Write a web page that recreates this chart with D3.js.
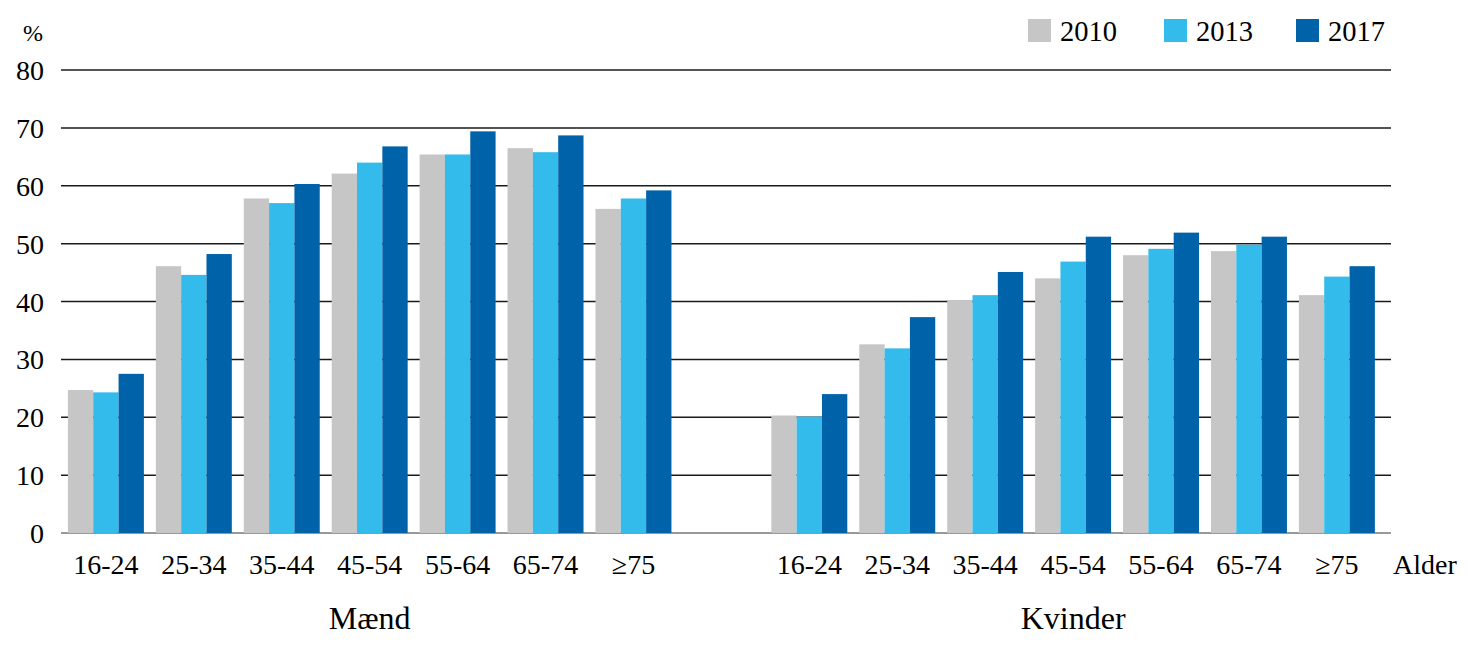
<!DOCTYPE html>
<html>
<head>
<meta charset="utf-8">
<script src="https://cdn.jsdelivr.net/npm/d3@7"></script>
<style>
  body { margin: 0; background: #fff; }
  svg text { font-family: "Liberation Serif", "Times New Roman", serif; fill: #000; }
</style>
</head>
<body>
<div id="chart"></div>
<script>
var years = ["2010", "2013", "2017"]
var ageGroups = ["16-24", "25-34", "35-44", "45-54", "55-64", "65-74", "≥75"]
var sexes = ["Mænd", "Kvinder"]
var yTicks = [0, 10, 20, 30, 40, 50, 60, 70, 80]

// percent per age group, one array per year
var maend2010 = [24.7, 46.1, 57.8, 62.1, 65.4, 66.5, 56.0]
var maend2013 = [24.3, 44.6, 57.0, 64.0, 65.4, 65.8, 57.8]
var maend2017 = [27.5, 48.2, 60.3, 66.8, 69.4, 68.7, 59.2]
var kvinder2010 = [20.3, 32.6, 40.1, 44.0, 48.0, 48.7, 41.1]
var kvinder2013 = [20.1, 31.9, 41.1, 46.9, 49.1, 49.8, 44.3]
var kvinder2017 = [24.0, 37.3, 45.1, 51.2, 51.9, 51.2, 46.1]

var colors = ["#c6c6c6", "#33bbeb", "#0062a9"]

var width = 1468,
    height = 647;

var svg = d3.select("#chart")
  .append("svg")
    .attr("width", width)
    .attr("height", height)
  .append("g");

// build rows: slot key = sex + "|" + age, with one empty slot between the sexes
var rows = []
ageGroups.forEach(function(a, i) {
  rows.push({key: "M|" + a, age: a, vals: [maend2010[i], maend2013[i], maend2017[i]]})
})
var slots = rows.map(function(d) { return d.key }).concat(["gap"])
ageGroups.forEach(function(a, i) {
  rows.push({key: "K|" + a, age: a, vals: [kvinder2010[i], kvinder2013[i], kvinder2017[i]]})
  slots.push("K|" + a)
})

var plotLeft = 61, plotRight = 1391

var x = d3.scaleBand()
  .domain(slots)
  .range([plotLeft, plotRight])
  .paddingInner(0.136)
  .paddingOuter(0.131)
  .align(0.3)

var xSub = d3.scaleBand()
  .domain(years)
  .range([0, x.bandwidth()])
  .padding(0)

var y = d3.scaleLinear()
  .domain([0, 80])
  .range([533, 70])

var color = d3.scaleOrdinal()
  .domain(years)
  .range(colors)

// gridlines
svg.append("g")
  .selectAll("line")
  .data(yTicks)
  .enter().append("line")
    .attr("x1", plotLeft)
    .attr("x2", plotRight)
    .attr("y1", function(d) { return y(d) })
    .attr("y2", function(d) { return y(d) })
    .attr("stroke", function(d) { return d === 0 ? "#333" : "#1a1a1a" })
    .attr("stroke-width", function(d) { return d === 0 ? 1 : 1.5 })

// y labels
svg.append("g")
  .selectAll("text")
  .data(yTicks)
  .enter().append("text")
    .attr("x", 44)
    .attr("y", function(d) { return y(d) + 10 })
    .attr("text-anchor", "end")
    .attr("font-size", "28px")
    .text(function(d) { return d })

svg.append("text")
  .attr("x", 33)
  .attr("y", 41)
  .attr("text-anchor", "middle")
  .attr("font-size", "24px")
  .text("%")

// bars
svg.append("g")
  .selectAll("g")
  .data(rows)
  .enter().append("g")
    .attr("transform", function(d) { return "translate(" + x(d.key) + ",0)" })
  .selectAll("rect")
  .data(function(d) { return d.vals.map(function(v, i) { return {year: years[i], value: v} }) })
  .enter().append("rect")
    .attr("x", function(d) { return xSub(d.year) })
    .attr("y", function(d) { return y(d.value) })
    .attr("width", xSub.bandwidth())
    .attr("height", function(d) { return y(0) - y(d.value) })
    .attr("fill", function(d) { return color(d.year) })

// age labels
svg.append("g")
  .selectAll("text")
  .data(rows)
  .enter().append("text")
    .attr("x", function(d) { return x(d.key) + x.bandwidth() / 2 })
    .attr("y", 574)
    .attr("text-anchor", "middle")
    .attr("font-size", "28px")
    .text(function(d) { return d.age })

svg.append("text")
  .attr("x", 1393)
  .attr("y", 574)
  .attr("font-size", "28px")
  .text("Alder")

// sex labels, centred under each block
sexes.forEach(function(s, i) {
  var first = x(rows[i * 7].key), last = x(rows[i * 7 + 6].key) + x.bandwidth()
  svg.append("text")
    .attr("x", (first + last) / 2)
    .attr("y", 629)
    .attr("text-anchor", "middle")
    .attr("font-size", "32px")
    .text(s)
})

// legend
var legendX = [1028, 1164, 1296]
var legend = svg.append("g")
legend.selectAll("g")
  .data(years)
  .enter().append("g")
    .attr("transform", function(d, i) { return "translate(" + legendX[i] + ",19)" })
  .call(function(g) {
    g.append("rect")
      .attr("width", 23)
      .attr("height", 23)
      .attr("fill", function(d) { return color(d) })
    g.append("text")
      .attr("x", 32)
      .attr("y", 22)
      .attr("font-size", "28.5px")
      .text(function(d) { return d })
  })
</script>
</body>
</html>
